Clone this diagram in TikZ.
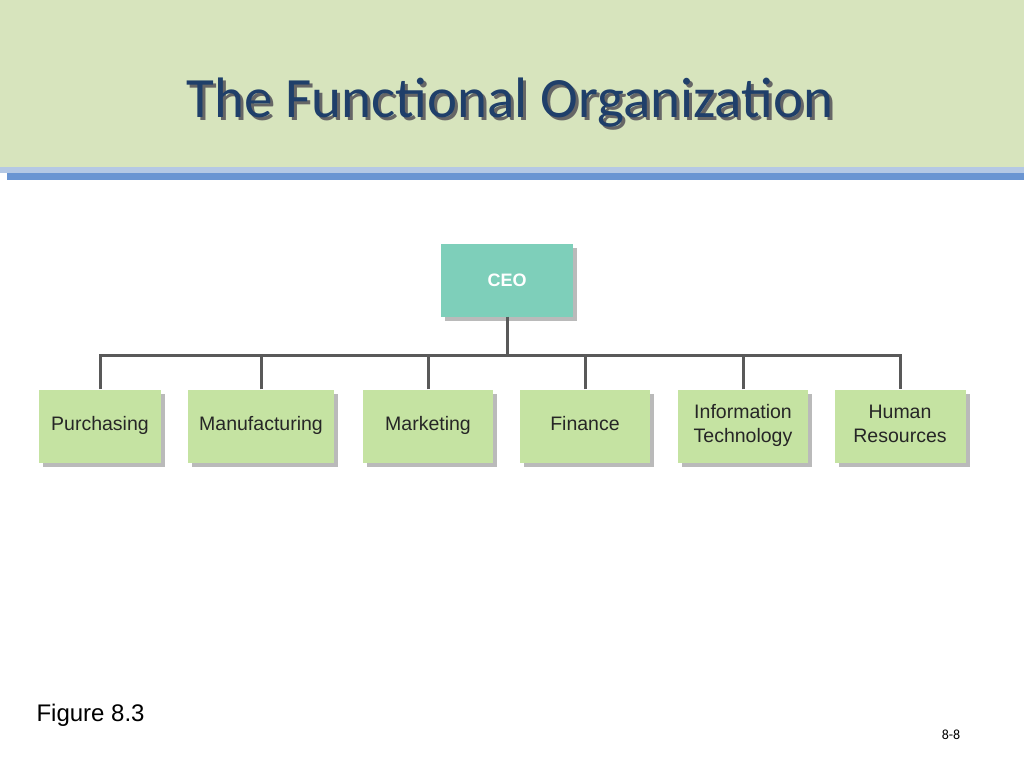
\documentclass[tikz,border=0pt]{standalone}
\usepackage{fontspec}
\setmainfont{Liberation Sans}
\newfontfamily\carl{Carlito}
\usetikzlibrary{shadows}
\definecolor{band}{HTML}{D7E4BD}
\definecolor{bl1}{HTML}{B4C8E4}
\definecolor{bl2}{HTML}{6A95D2}
\definecolor{ceoc}{HTML}{7ECFBA}
\definecolor{boxc}{HTML}{C5E3A2}
\definecolor{ttl}{HTML}{1F3F6A}
\begin{document}
\begin{tikzpicture}[x=1pt,y=-1pt,
  box/.style={draw=none,fill=boxc,minimum height=73pt,align=center,font=\fontsize{19.5}{23.5}\selectfont,text=black!85,
    drop shadow={shadow xshift=4pt,shadow yshift=-4pt,fill=black!45,opacity=.6}},
  conn/.style={draw=black!65,line width=3pt}]
\useasboundingbox (0,0) rectangle (1024,768);
\fill[white] (0,0) rectangle (1024,768);
\fill[band] (0,0) rectangle (1024,167);
\fill[bl1] (0,167) rectangle (1024,173);
\fill[bl2] (7,173) rectangle (1024,180);
\node[text=black!60] at (513,106) {\carl\fontsize{57}{66}\selectfont The Functional Organization};
\node[text=ttl] (title) at (510,103) {\carl\fontsize{57}{66}\selectfont The Functional Organization};
\node[box,fill=ceoc,minimum width=132pt,text=white,font=\bfseries\fontsize{18}{21}\selectfont] (ceo) at (507,280) {CEO};
\node[box,minimum width=122pt] (p) at (100,426) {Purchasing\strut};
\node[box,minimum width=146pt] (m) at (261,426) {Manufacturing\strut};
\node[box,minimum width=130pt] (mk) at (428,426) {Marketing\strut};
\node[box,minimum width=130pt] (f) at (585,426) {Finance\strut};
\node[box,minimum width=130pt] (it) at (743,426) {Information\strut\\Technology\strut};
\node[box,minimum width=131pt] (hr) at (900,426) {Human\strut\\Resources\strut};
\coordinate (bus) at (507,355);
\draw[conn] (ceo.south) -- (bus);
\draw[conn] (p.north) -- (p.north |- bus) -- (hr.north |- bus) -- (hr.north);
\foreach \n in {m,mk,f,it}{\draw[conn] (\n.north) -- (\n.north |- bus);}
\node[anchor=west,font=\fontsize{24}{28}\selectfont] (fig) at (33,715) {Figure 8.3};
\node[font=\carl\fontsize{14}{16}\selectfont] (pg) at (951,735) {8-8};
\end{tikzpicture}
\end{document}
